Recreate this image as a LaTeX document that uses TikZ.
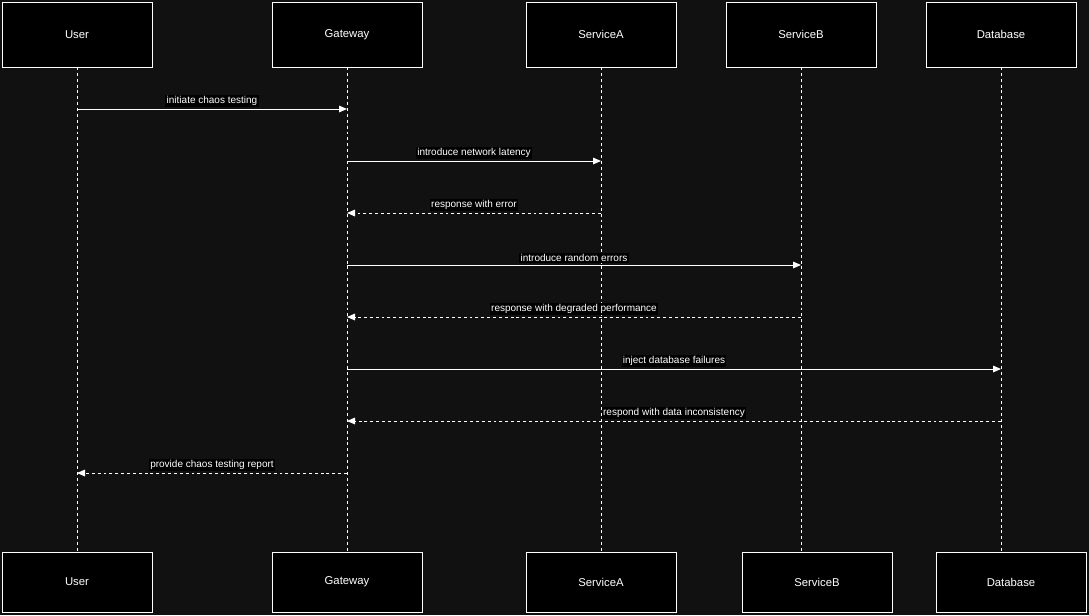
\documentclass[tikz,border=0pt]{standalone}
\usepackage{fontspec}
\setmainfont{Liberation Sans}
\usetikzlibrary{arrows.meta}
\definecolor{bg}{HTML}{111111}
\begin{document}
\begin{tikzpicture}[x=0.75pt,y=-0.75pt,
 box/.style={draw=white,fill=black,text=white,minimum width=112.5pt,minimum height=48.75pt,font=\fontsize{8.5}{10}\selectfont,inner sep=0pt,line width=0.6pt},
 bbox/.style={box,minimum height=45pt},
 life/.style={white,dash pattern=on 2.2pt off 2.2pt,line width=0.6pt},
 msg/.style={white,line width=0.7pt,-{Triangle[length=6pt,width=5pt]}},
 ret/.style={msg,dash pattern=on 2.2pt off 2.2pt},
 lab/.style={fill=black,text=white,font=\fontsize{7.5}{9}\selectfont,inner sep=1pt}]
\fill[bg] (0,0) rectangle (1089,615);
\useasboundingbox (0,0) rectangle (1089,615);
\node[box] (u) at (77,34.5) {User};
\node[box] (g) at (347,34.5) {Gateway};
\node[box] (a) at (601,34.5) {ServiceA};
\node[box] (b) at (801,34.5) {ServiceB};
\node[box] (d) at (1001,34.5) {Database};
\node[bbox] (u2) at (77,582) {User};
\node[bbox] (g2) at (347,582) {Gateway};
\node[bbox] (a2) at (601,582) {ServiceA};
\node[bbox] (b2) at (817,582) {ServiceB};
\node[bbox] (d2) at (1011,582) {Database};
\foreach \n/\xx in {u/77,g/347,a/601,b/801,d/1001}{
 \coordinate (\n t) at (\xx,67);
 \coordinate (\n b) at (\xx,552);
 \draw[life] (\n t) -- (\n b);
 \foreach \yy in {109,161,213,265,317,369,421,473}{\coordinate (\n\yy) at (\xx,\yy);}
}
\draw[msg] (u109) -- node[lab,above=1pt]{initiate chaos testing} (g109);
\draw[msg] (g161) -- node[lab,above=1pt]{introduce network latency} (a161);
\draw[ret] (a213) -- node[lab,above=1pt]{response with error} (g213);
\draw[msg] (g265) -- node[lab,above=1pt]{introduce random errors} (b265);
\draw[ret] (b317) -- node[lab,above=1pt]{response with degraded performance} (g317);
\draw[msg] (g369) -- node[lab,above=1pt]{inject database failures} (d369);
\draw[ret] (d421) -- node[lab,above=1pt]{respond with data inconsistency} (g421);
\draw[ret] (g473) -- node[lab,above=1pt]{provide chaos testing report} (u473);
\end{tikzpicture}
\end{document}
